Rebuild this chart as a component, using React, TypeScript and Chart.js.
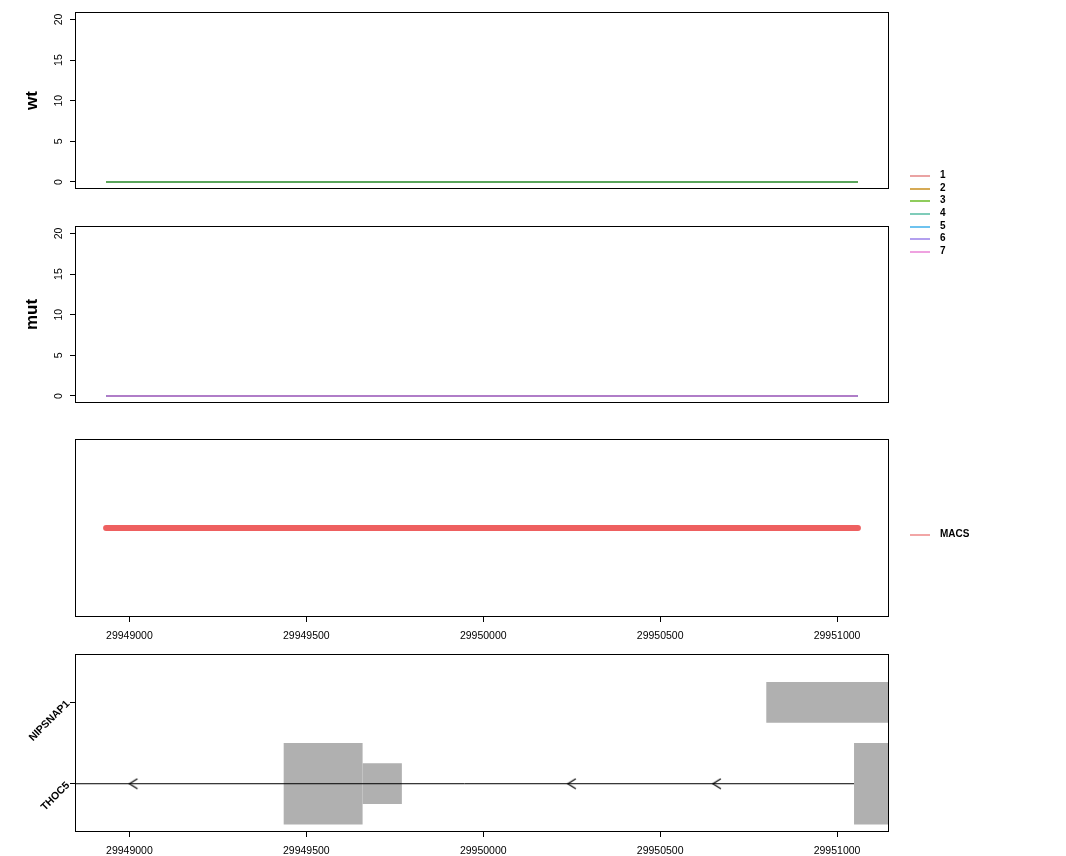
import React, { useEffect, useRef } from 'react';
import { Chart, registerables } from 'chart.js';

Chart.register(...registerables);

// ---- data ----
const xMin = 29948849;
const xMax = 29951144;
const xTicks = [29949000, 29949500, 29950000, 29950500, 29951000];

const covMin = -0.74;
const covMax = 20.8;
const covTicks = [0, 5, 10, 15, 20];
const covPositions = [29948934, 29951059];

const sampleLabels = ['1', '2', '3', '4', '5', '6', '7'];
const legendColors = ['#eaa3a3', '#d6aa55', '#8fcc5c', '#7fccb9', '#6ec3ef', '#b3a0ef', '#efa2e0'];
const lineColors = ['#f8766d', '#c49a00', '#5aa55c', '#00c094', '#00b6eb', '#b07dc8', '#fb61d7'];

const cov1 = [0, 0];
const cov2 = [0, 0];
const cov3 = [0, 0];
const cov4 = [0, 0];
const cov5 = [0, 0];
const cov6 = [0, 0];
const wtSamples = [{ id: '1', values: cov1 }, { id: '2', values: cov2 }, { id: '3', values: cov3 }];
const mutSamples = [{ id: '4', values: cov4 }, { id: '5', values: cov5 }, { id: '6', values: cov6 }];

const peakLabels = ['MACS'];
const peakStart = [29948934];
const peakEnd = [29951059];

const geneNames = ['THOC5', 'NIPSNAP1'];
const intronGene = ['THOC5'];
const intronStart = [29948700];
const intronEnd = [29951048];
const arrowGene = ['THOC5', 'THOC5', 'THOC5'];
const arrowPos = [29949000, 29950239, 29950649];
const exonGene = ['THOC5', 'THOC5', 'THOC5', 'NIPSNAP1'];
const exonStart = [29949436, 29949659, 29951048, 29950800];
const exonEnd = [29949659, 29949770, 29951400, 29951400];
const exonType = ['cds', 'utr', 'cds', 'utr'];

// ---- styling helpers ----
const W = 1066;
const FONT = '"Liberation Sans", Arial, Helvetica, sans-serif';

const boxPlugin = {
    id: 'box',
    afterDatasetsDraw(chart: any) {
        const { ctx, chartArea: a } = chart;
        ctx.save();
        ctx.strokeStyle = '#000';
        ctx.lineWidth = 1;
        ctx.strokeRect(Math.round(a.left) - 0.5, Math.round(a.top) - 0.5, Math.round(a.width) + 1, Math.round(a.height) + 1);
        ctx.restore();
    },
};

const tickGrid = {
    display: true,
    drawOnChartArea: false,
    drawTicks: true,
    tickLength: 6,
    color: '#000',
    tickColor: '#000',
    lineWidth: 1,
};

const hiddenX = { type: 'linear', min: xMin, max: xMax, display: false };

const bottomX = (h: number) => ({
    type: 'linear',
    min: xMin,
    max: xMax,
    afterBuildTicks: (s: any) => {
        s.ticks = xTicks.map((v) => ({ value: v }));
    },
    afterFit: (s: any) => {
        s.height = h;
    },
    grid: tickGrid,
    border: { display: false },
    ticks: {
        color: '#000',
        font: { family: FONT, size: 10.5 },
        padding: 8,
        maxRotation: 0,
        autoSkip: false,
        callback: (v: any) => String(v),
    },
});

const coverageY = (title: string) => ({
    type: 'linear',
    min: covMin,
    max: covMax,
    afterBuildTicks: (s: any) => {
        s.ticks = covTicks.map((v) => ({ value: v }));
    },
    afterFit: (s: any) => {
        s.width = 76;
    },
    grid: tickGrid,
    border: { display: false },
    ticks: {
        color: '#000',
        font: { family: FONT, size: 10.5 },
        minRotation: 90,
        maxRotation: 90,
        crossAlign: 'center',
        padding: 5,
        autoSkip: false,
    },
    title: {
        display: true,
        text: title,
        color: '#000',
        font: { family: FONT, size: 17, weight: 'bold' },
        padding: { top: 22, bottom: 0 },
    },
});

const baseOptions = (padding: any, scales: any) => ({
    responsive: false,
    animation: false,
    events: [],
    layout: { padding },
    plugins: { legend: { display: false }, tooltip: { enabled: false } },
    scales,
});

const coverageConfig = (samples: { id: string; values: number[] }[], title: string, padding: any) => ({
    type: 'scatter',
    data: {
        // last sample ends up on top
        datasets: samples
            .map((s) => ({
                label: s.id,
                data: covPositions.map((x, i) => ({ x, y: s.values[i] })),
                showLine: true,
                borderColor: lineColors[sampleLabels.indexOf(s.id)],
                borderWidth: 2,
                borderCapStyle: 'butt',
                pointRadius: 0,
                clip: 0,
            }))
            .reverse(),
    },
    options: baseOptions(padding, { x: hiddenX, y: coverageY(title) }),
    plugins: [boxPlugin],
});

const peakConfig = () => ({
    type: 'scatter',
    data: {
        datasets: peakLabels.map((label, i) => ({
            label,
            data: [
                { x: peakStart[i], y: 1 },
                { x: peakEnd[i], y: 1 },
            ],
            showLine: true,
            borderColor: '#ee6060',
            borderWidth: 6,
            borderCapStyle: 'round',
            pointRadius: 0,
        })),
    },
    options: baseOptions(
        { top: 20, left: 76, right: 178, bottom: 0 },
        { x: bottomX(29), y: { type: 'linear', min: 0, max: 2, display: false } }
    ),
    plugins: [boxPlugin],
});

const makeChevron = () => {
    const c = document.createElement('canvas');
    c.width = 20;
    c.height = 12;
    const g = c.getContext('2d')!;
    g.strokeStyle = '#000';
    g.lineWidth = 1.2;
    g.beginPath();
    g.moveTo(18, 1);
    g.lineTo(10, 6);
    g.lineTo(18, 11);
    g.stroke();
    return c;
};

const geneConfig = () => {
    const row = (g: string) => geneNames.indexOf(g) + 1;
    const datasets: any[] = [];
    exonGene.forEach((g, i) => {
        const half = exonType[i] === 'cds' ? 0.5 : 0.25;
        const y0 = row(g) - half;
        const y1 = row(g) + half;
        datasets.push({
            label: g + ' exon',
            data: [
                { x: exonStart[i], y: y0 },
                { x: exonEnd[i], y: y0 },
                { x: exonEnd[i], y: y1 },
                { x: exonStart[i], y: y1 },
                { x: exonStart[i], y: y0 },
            ],
            showLine: true,
            fill: 'shape',
            backgroundColor: '#b0b0b0',
            borderColor: '#b0b0b0',
            borderWidth: 0,
            pointRadius: 0,
            clip: 0,
        });
    });
    intronGene.forEach((g, i) => {
        datasets.push({
            label: g,
            data: [
                { x: intronStart[i], y: row(g) },
                { x: intronEnd[i], y: row(g) },
            ],
            showLine: true,
            borderColor: '#000',
            borderWidth: 1,
            pointRadius: 0,
            clip: 0,
        });
    });
    datasets.push({
        label: 'strand',
        data: arrowPos.map((x, i) => ({ x, y: row(arrowGene[i]) })),
        pointStyle: makeChevron(),
        pointRadius: 5,
        showLine: false,
    });
    return {
        type: 'scatter',
        data: { datasets: datasets.reverse() },
        options: baseOptions(
            { top: 10, left: 0, right: 178, bottom: 0 },
            {
                x: bottomX(25),
                y: {
                    type: 'linear',
                    min: 0.42,
                    max: 2.58,
                    afterBuildTicks: (s: any) => {
                        s.ticks = geneNames.map((_, i) => ({ value: i + 1 }));
                    },
                    afterFit: (s: any) => {
                        s.width = 76;
                    },
                    grid: tickGrid,
                    border: { display: false },
                    ticks: {
                        color: '#000',
                        font: { family: FONT, size: 10.5, weight: 'bold' },
                        minRotation: 45,
                        maxRotation: 45,
                        padding: 2,
                        autoSkip: false,
                        callback: (v: any) => geneNames[Math.round(v) - 1] ?? '',
                    },
                },
            }
        ),
        plugins: [boxPlugin],
    };
};

const Panel: React.FC<{ build: () => any; top: number; height: number }> = ({ build, top, height }) => {
    const ref = useRef<HTMLCanvasElement | null>(null);
    useEffect(() => {
        if (!ref.current) return;
        const chart = new Chart(ref.current, build());
        return () => {
            chart.destroy();
        };
    }, []);
    return (
        <canvas
            ref={ref}
            width={W}
            height={height}
            style={{ position: 'absolute', left: 0, top, width: W, height }}
        />
    );
};

const LegendItem: React.FC<{ label: string; color: string; y: number }> = ({ label, color, y }) => {
    const cy = Math.round(y);
    return (
        <>
            <div style={{ position: 'absolute', left: 910, top: cy - 1, width: 20, height: 2, background: color }} />
            <div
                style={{
                    position: 'absolute',
                    left: 940,
                    top: cy - 7,
                    height: 14,
                    lineHeight: '14px',
                    font: `bold 10px ${FONT}`,
                    color: '#000',
                    whiteSpace: 'nowrap',
                }}
            >
                {label}
            </div>
        </>
    );
};

const App: React.FC = () => {
    return (
        <div style={{ position: 'absolute', left: 0, top: 0, width: W, height: 856, background: '#fff', overflow: 'hidden' }}>
            <Panel build={() => coverageConfig(wtSamples, 'wt', { top: 13, left: 0, right: 178, bottom: 22 })} top={0} height={210} />
            <Panel build={() => coverageConfig(mutSamples, 'mut', { top: 17, left: 0, right: 178, bottom: 18 })} top={210} height={210} />
            <Panel build={peakConfig} top={420} height={225} />
            <Panel build={geneConfig} top={645} height={211} />
            {sampleLabels.map((s, i) => (
                <LegendItem key={s} label={s} color={legendColors[i]} y={176 + i * 12.67} />
            ))}
            {peakLabels.map((s) => (
                <LegendItem key={s} label={s} color="#f2a6a6" y={535} />
            ))}
        </div>
    );
};

export default App;
